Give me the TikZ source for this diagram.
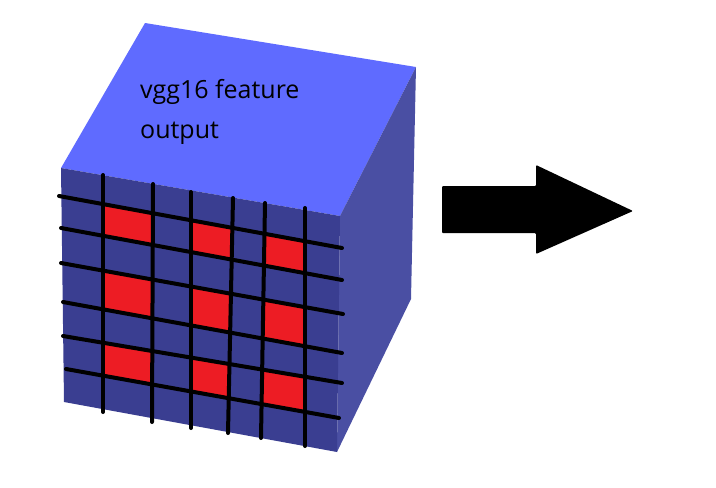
\documentclass[tikz,border=0pt]{standalone}
\usepackage{fontspec}
\setmainfont{Open Sans}
\usetikzlibrary{intersections}
\definecolor{cubetop}{HTML}{5F6BFF}
\definecolor{cubefront}{HTML}{3A3E91}
\definecolor{cubeside}{HTML}{4A4FA3}
\definecolor{cellred}{HTML}{ED1C24}

\begin{document}
\begin{tikzpicture}[
			x=1pt, y=-1pt,
			face/.style={draw=none},
			gridline/.style={black, line width=4pt, line cap=round},
			redcell/.style={fill=cellred},
			caption/.style={anchor=base west, inner sep=0pt, font=\fontsize{25}{30}\selectfont},
			bigarrow/.style={fill=black, rounded corners=1pt}
			]
			\useasboundingbox (0,0) rectangle (716,488);
			
			% Cube corners
			\coordinate (tbl) at (145,23);
			\coordinate (tbr) at (416,67);
			\coordinate (tfl) at (61,168);
			\coordinate (tfr) at (340,216);
			\coordinate (bfl) at (64,402);
			\coordinate (bfr) at (337,452);
			\coordinate (bbr) at (411,299);
			
			% Faces
			\fill [face, cubetop] (tbl) -- (tbr) -- (tfr) -- (tfl) -- cycle;
			\fill [face, cubeside] (tfr) -- (tbr) -- (bbr) -- (bfr) -- cycle;
			\fill [face, cubefront] (tfl) -- (tfr) -- (bfr) -- (bfl) -- cycle;
			
			% Grid ends
			\coordinate (hl1) at (59,196);  \coordinate (hr1) at (342,248);
			\coordinate (hl2) at (61,228);  \coordinate (hr2) at (342,280);
			\coordinate (hl3) at (61,263);  \coordinate (hr3) at (343,314);
			\coordinate (hl4) at (63,302);  \coordinate (hr4) at (342,353);
			\coordinate (hl5) at (63,336);  \coordinate (hr5) at (342,383);
			\coordinate (hl6) at (66,369);  \coordinate (hr6) at (339,418);
			\coordinate (vt1) at (103,175); \coordinate (vb1) at (103,412);
			\coordinate (vt2) at (153,184); \coordinate (vb2) at (152,422);
			\coordinate (vt3) at (191,192); \coordinate (vb3) at (191,428);
			\coordinate (vt4) at (233,198); \coordinate (vb4) at (228,433);
			\coordinate (vt5) at (265,203); \coordinate (vb5) at (261,438);
			\coordinate (vt6) at (305,208); \coordinate (vb6) at (305,446);
			
			% Crossings
			\foreach \i in {1,...,6}
			\foreach \k in {1,...,6} {
				\path [name path=hcut] (hl\i) -- (hr\i);
				\path [name path=vcut] (vt\k) -- (vb\k);
				\path [name intersections={of=hcut and vcut, by={p\i\k}}];
			}
			
			% Red cells
			\foreach \i/\j in {1/2,3/4,5/6}
			\foreach \k/\l in {1/2,3/4,5/6}
			\fill [redcell] (p\i\k) -- (p\i\l) -- (p\j\l) -- (p\j\k) -- cycle;
			
			% Grid lines
			\foreach \n in {1,...,6} {
				\draw [gridline] (hl\n) -- (hr\n);
				\draw [gridline] (vt\n) -- (vb\n);
			}
			
			% Nodes
			\node (title) [caption] at (140,98) {vgg16 feature};
			\node (titlecont) [caption] at ([yshift=-40pt]title.base west) {output};
			
			% Arrow
			\fill [bigarrow] (442,186) -- (536,186) -- (536,165) -- (633,211)
				-- (536,254) -- (536,233) -- (442,233) -- cycle;
			
		\end{tikzpicture}
\end{document}
